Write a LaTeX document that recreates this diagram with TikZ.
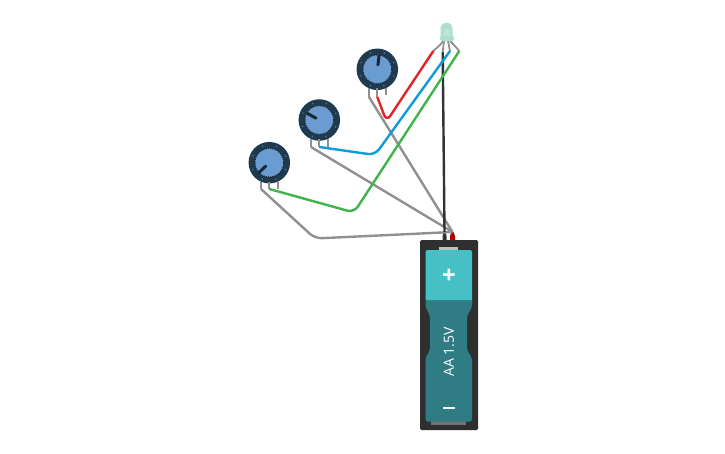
\documentclass[tikz,border=0pt]{standalone}
\usepackage{fontspec}
\setmainfont{Open Sans}
\definecolor{ringc}{HTML}{1F3A4E}
\definecolor{dialc}{HTML}{6A9CD2}
\definecolor{legc}{HTML}{909090}
\definecolor{redw}{HTML}{E2232A}
\definecolor{bluew}{HTML}{0F9BD7}
\definecolor{greenw}{HTML}{3DB54A}
\definecolor{blackw}{HTML}{333333}
\definecolor{casec}{HTML}{2F2F2F}
\definecolor{cyanc}{HTML}{45C1C6}
\definecolor{tealc}{HTML}{2F7C84}
\definecolor{ledc}{HTML}{ACDFCF}
\begin{document}
\begin{tikzpicture}[x=1pt,y=-1pt]
\tikzstyle{ring} = [circle, fill=ringc, minimum size=41.5pt, inner sep=0pt]
\tikzstyle{dial} = [circle, fill=dialc, draw=ringc!70!black, densely dotted, line width=1.3pt, minimum size=29pt, inner sep=0pt]
\tikzstyle{leg} = [draw=legc, line width=1.8pt]
\tikzstyle{needle} = [draw=ringc!70!black, line width=3pt, line cap=round]
\tikzstyle{wire} = [line width=2.4pt, rounded corners=7pt]
\tikzstyle{lbl} = [text=white, inner sep=0pt]
\useasboundingbox (0,0) rectangle (725,453);

% potentiometers
\foreach \name/\cx/\cy/\tipx/\tipy/\basex/\basey in {potA/377.3/69.3/379/56/377.9/65, potB/319.3/120/307.5/113.5/316/118.2, potC/269.3/162.7/258.5/173/265.7/166.2} {
  \node[ring] (\name) at (\cx,\cy) {};
  \foreach \a in {0,45,...,315}
    \fill[dialc!70!ringc] (\name) ++(\a+22:17.7pt) circle (0.8pt);
  \node[dial] (\name d) at (\cx,\cy) {};
  \draw[needle] (\tipx,\tipy) -- (\basex,\basey);
}

% pot pins
\coordinate (a1) at (369,97);
\coordinate (a2) at (377.3,97);
\coordinate (a3) at (385.7,95);
\coordinate (b1) at (311,147);
\coordinate (b2) at (319.3,147);
\coordinate (b3) at (328,147);
\coordinate (c1) at (261,189);
\coordinate (c2) at (269.3,189);
\coordinate (c3) at (278,189);
\foreach \p/\x/\top in {a1/369/88, a2/377.3/88, a3/385.7/88, b1/311/139, b2/319.3/139, b3/328/139, c1/261/182, c2/269.3/182, c3/278/182}
  \draw[leg] (\x,\top) -- (\p);

% led
\coordinate (l1) at (433.3,51);
\coordinate (l2) at (442.7,52);
\coordinate (l3) at (450,51);
\coordinate (l4) at (459.3,51);
\draw[leg] (443.3,41) -- (440,45) -- (l1);
\draw[leg] (444,41) -- (l2);
\draw[leg] (448,41) -- (l3);
\draw[leg] (450,41) -- (454,45) -- (l4);
\fill[ledc] (440.5,38) -- (440.5,28.7) arc[start angle=180, end angle=0, radius=6pt] -- (452.5,38) -- cycle;
\node[fill=ledc, rounded corners=1.5pt, minimum width=14pt, minimum height=5pt, inner sep=0pt] (ledbase) at (447,38.5) {};
\fill[white, opacity=0.2] (443,36) -- (450,36) -- (449,29) -- (444,29) -- cycle;

% battery
\node[fill=casec, rounded corners=1.5pt, minimum width=58pt, minimum height=190pt, inner sep=0pt] (case) at (449,335) {};
\fill[black!25] (439,247) rectangle (458,251);
\fill[black!55] (431,421) rectangle (466,424.5);
\fill[tealc, rounded corners=2pt] (425.5,295) -- (425.5,307) -- (430,316) -- (430,350) -- (425.5,358) -- (425.5,421.5) -- (472,421.5) -- (472,358) -- (467,350) -- (467,316) -- (472,307) -- (472,295) -- cycle;
\fill[cyanc, rounded corners=2pt] (425.5,300) -- (425.5,250) -- (472,250) -- (472,300) -- cycle;
\fill[cyanc] (425.5,296) rectangle (472,300);
\node[lbl, font=\fontsize{24}{24}\bfseries\selectfont] (plus) at (449,276.5) {+};
\node[lbl, rotate=90, font=\fontsize{14}{14}\selectfont] (volt) at (449,352) {AA 1.5V};
\node[lbl, fill=white, minimum width=12pt, minimum height=2.4pt] (minus) at (449,408) {};

% battery terminals
\coordinate (tb) at (444.5,232);
\coordinate (tr) at (452.5,232);
\fill[blackw] (442.5,240) -- (442.5,236) -- (443.5,232) -- (445.5,232) -- (446.5,236) -- (446.5,240) -- cycle;
\fill[red!70!black] (450,240) -- (450,236) -- (451.5,232) -- (453.5,232) -- (455,236) -- (455,240) -- cycle;

% wires
\draw[leg, line width=2.4pt, rounded corners=7pt] (c1) -- (315,238.5) -- (tr);
\draw[leg, line width=2.4pt] (b1) -- (tr);
\draw[leg, line width=2.4pt] (a1) -- (tr);
\draw[wire, draw=blackw] (tb) -- (l2);
\draw[wire, draw=redw] (a2) -- (386.5,121.5) -- (l1);
\draw[wire, draw=bluew] (b2) -- (375,155) -- (l3);
\draw[wire, draw=greenw] (c2) -- (354,212.5) -- (l4);
\end{tikzpicture}
\end{document}
